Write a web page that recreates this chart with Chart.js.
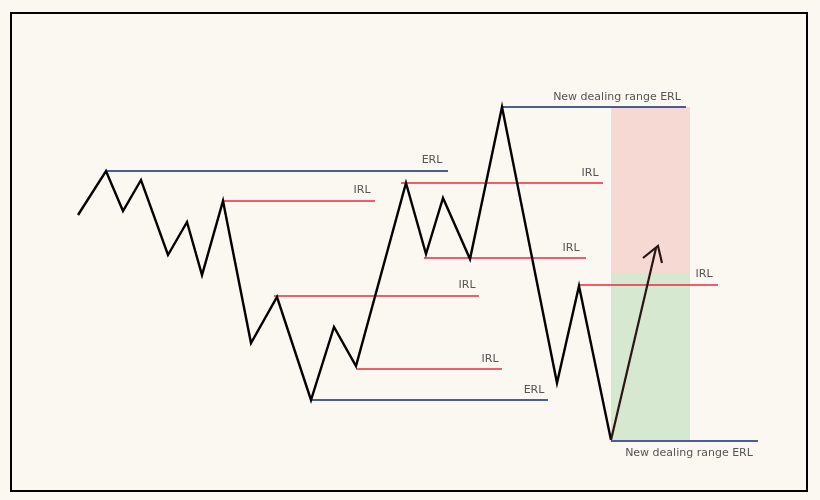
<!DOCTYPE html><html><head><meta charset="utf-8">
<script src="https://cdn.jsdelivr.net/npm/chart.js@4"></script>
<style>html,body{margin:0;background:#fbf7f1}#w{width:820px;height:500px}</style></head><body><div id="w"><canvas id="c"></canvas></div>
<script>
const priceX=[78,106,123,141,168,187,202,223,251,277,311,334,356,406,426,443,470,502,557,579,611];
const priceY=[215,171,211,180,255,222,275,201,343,297,400,327,366,183,254,198,259,107,383,286,440];
const arrowX=[611,656];const arrowY=[440,248];
const levelNames=["ERL","IRL","IRL","New dealing range ERL","IRL","IRL","IRL","IRL","ERL","New dealing range ERL"];
const levelY=[171,201,183,107,258,285,296,369,400,441];
const levelX1=[106,223,401,502,424,579,274,356,311,611];
const levelX2=[448,375,603,686,586,718,479,502,548,758];
const levelKind=["erl","irl","irl","erl","irl","irl","irl","irl","erl","erl"];
const labelX=[432,362,590,617,571,704,467,490,534,689];
const labelY=[160,190,173,97,248,274,285,359,390,453];
const boxX=[611,690];const boxTop=107,boxMid=273,boxBot=440;
const pts=(xs,ys)=>xs.map((x,i)=>({x,y:ys[i]}));
const ds=[];
ds.push({order:20,data:pts(boxX,[boxTop,boxTop]),borderWidth:0,pointRadius:0,fill:'+1',backgroundColor:'rgba(244,196,192,0.6)'});
ds.push({order:20,data:pts(boxX,[boxMid,boxMid]),borderWidth:0,pointRadius:0,fill:false});
ds.push({order:20,data:pts(boxX,[boxMid,boxMid]),borderWidth:0,pointRadius:0,fill:'+1',backgroundColor:'#d7e8d0'});
ds.push({order:20,data:pts(boxX,[boxBot,boxBot]),borderWidth:0,pointRadius:0,fill:false});
levelY.forEach((y,i)=>ds.push({order:5,data:pts([levelX1[i],levelX2[i]],[y,y]),borderColor:levelKind[i]==='erl'?'#14287f':'#ee2a3c',borderWidth:1.6,pointRadius:0,fill:false}));
ds.push({order:1,data:pts(priceX,priceY),borderColor:'#000',borderWidth:2.4,pointRadius:0,fill:false,tension:0});
ds.push({order:0,data:pts(arrowX,arrowY),borderColor:'#2a1515',borderWidth:2.2,pointRadius:0,fill:false});
const deco={id:'deco',afterDatasetsDraw(ch){const c=ch.ctx,xs=ch.scales.x,ys=ch.scales.y;c.save();
c.strokeStyle='#000';c.lineWidth=2;c.strokeRect(xs.getPixelForValue(11),ys.getPixelForValue(13),xs.getPixelForValue(807)-xs.getPixelForValue(11),ys.getPixelForValue(491)-ys.getPixelForValue(13));
c.strokeStyle='#2a1515';c.lineWidth=2.2;c.beginPath();c.moveTo(xs.getPixelForValue(643),ys.getPixelForValue(258));c.lineTo(xs.getPixelForValue(658),ys.getPixelForValue(246));c.lineTo(xs.getPixelForValue(662),ys.getPixelForValue(263));c.stroke();
c.fillStyle='#555';c.font='11px "DejaVu Sans"';c.textAlign='center';c.textBaseline='middle';
levelNames.forEach((t,i)=>c.fillText(t,xs.getPixelForValue(labelX[i]),ys.getPixelForValue(labelY[i])));c.restore();}};
new Chart(document.getElementById('c'),{type:'line',data:{datasets:ds},plugins:[deco],options:{animation:false,responsive:true,maintainAspectRatio:false,layout:{padding:0},
plugins:{legend:{display:false},tooltip:{enabled:false}},
scales:{x:{type:'linear',min:0,max:820,display:false},y:{type:'linear',min:0,max:500,reverse:true,display:false}}}});
</script></body></html>
